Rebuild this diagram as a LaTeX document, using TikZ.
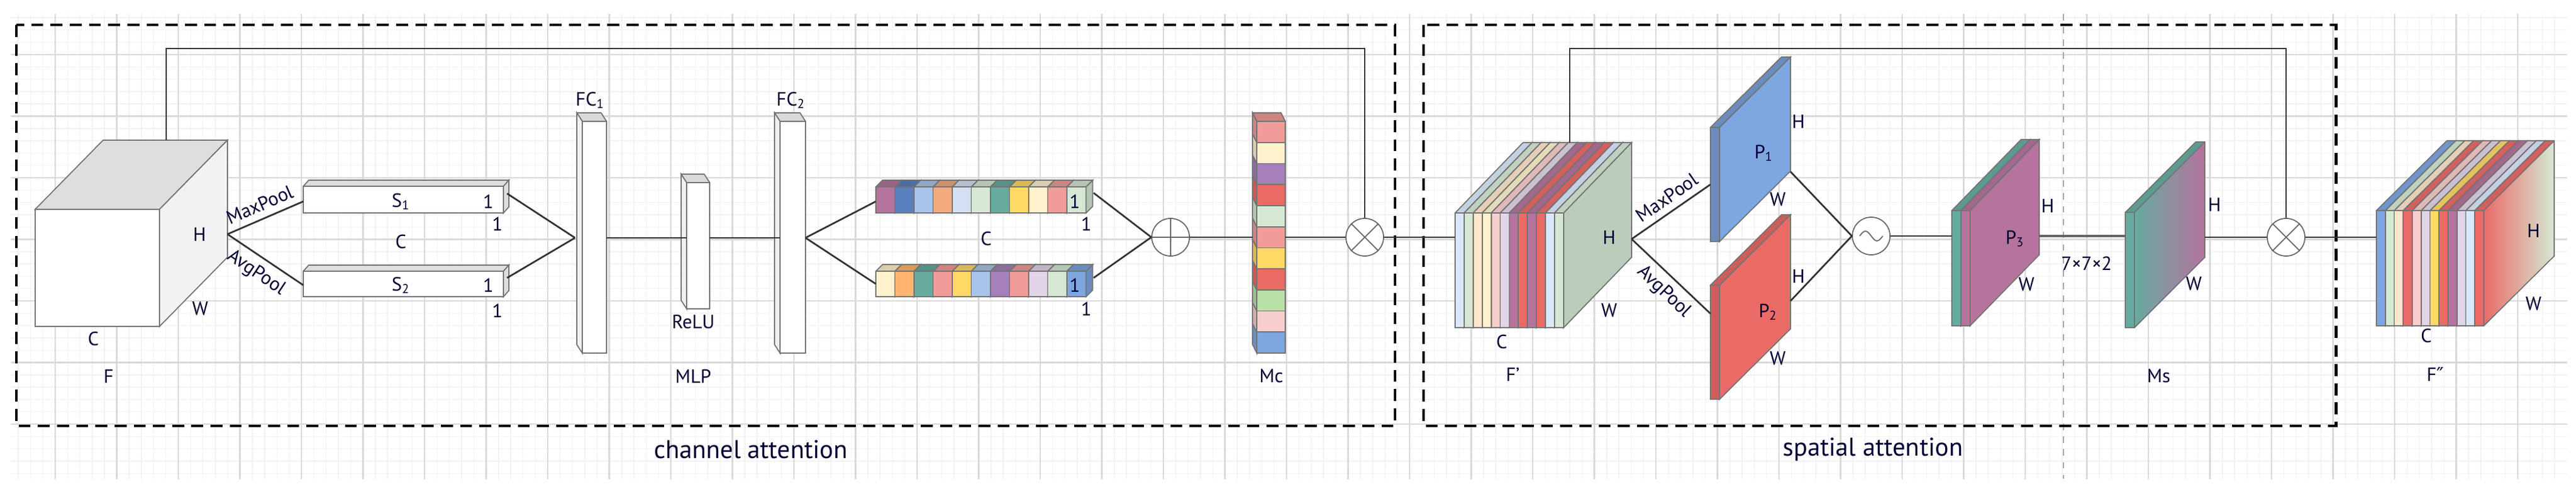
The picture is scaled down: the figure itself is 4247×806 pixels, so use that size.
\documentclass[tikz,border=0pt]{standalone}
\usepackage{fontspec}
\setmainfont{PT Sans}
\newfontfamily\djv{DejaVu Sans}
\begin{document}
\begin{tikzpicture}[x=0.01cm,y=-0.01cm,
  conn/.style={draw=black!80,line width=0.8pt},
  edge/.style={draw=black!55,line width=0.5pt},
  lbl/.style={text=black!80!blue,font=\fontsize{9}{10}\selectfont,inner sep=0pt},
  captxt/.style={text=black!80!blue,font=\fontsize{12}{14}\selectfont,inner sep=0pt},
  dbox/.style={draw=black,line width=1.4pt,dash pattern=on 5.6pt off 3.4pt},
  opcirc/.style={circle,draw=black!60,fill=white,minimum size=0.62cm,inner sep=0pt,line width=0.5pt}]
\definecolor{cA}{HTML}{DAE8FC}\definecolor{cB}{HTML}{D5E8D4}\definecolor{cC}{HTML}{FFE6CC}
\definecolor{cD}{HTML}{FFF2CC}\definecolor{cE}{HTML}{F8CECC}\definecolor{cF}{HTML}{E1D5E7}
\definecolor{cG}{HTML}{B5739D}\definecolor{cH}{HTML}{EA6B66}\definecolor{cI}{HTML}{7EA6E0}
\definecolor{cJ}{HTML}{67AB9F}\definecolor{cK}{HTML}{FFD966}\definecolor{cL}{HTML}{F19C99}
\definecolor{cM}{HTML}{A9C4EB}\definecolor{cN}{HTML}{FFB570}\definecolor{cO}{HTML}{A680B8}
\definecolor{cP}{HTML}{B9E0A5}\definecolor{cQ}{HTML}{5A80C0}\definecolor{cR}{HTML}{D4E1F5}
\definecolor{cS}{HTML}{F5A97F}
\newcommand{\cub}[9]{%
  \fill[#7] (#1,#2) rectangle ({#1+#3},{#2+#4});
  \fill[#8] (#1,#2) -- ({#1+#5},{#2+#6}) -- ({#1+#3+#5},{#2+#6}) -- ({#1+#3},#2) -- cycle;
  \draw[edge] (#1,#2) rectangle ({#1+#3},{#2+#4});
  \draw[edge] (#1,#2) -- ({#1+#5},{#2+#6}) -- ({#1+#3+#5},{#2+#6}) -- ({#1+#3},#2);
  \ifdim #5pt>0pt
    \filldraw[#9,edge] ({#1+#3},#2) -- ({#1+#3+#5},{#2+#6}) -- ({#1+#3+#5},{#2+#4+#6}) -- ({#1+#3},{#2+#4}) -- cycle;
  \else
    \filldraw[#9,edge] (#1,#2) -- ({#1+#5},{#2+#6}) -- ({#1+#5},{#2+#4+#6}) -- (#1,{#2+#4}) -- cycle;
  \fi}
\useasboundingbox (0,0) rectangle (4247,806);
\fill[white] (0,0) rectangle (4247,806);
% grid
\begin{scope}
\clip (18,23) rectangle (4232,789);
\foreach \i in {-5,...,210} {\draw[black!5,line width=0.4pt] ({91+20.3*\i},0) -- ({91+20.3*\i},806);}
\foreach \i in {-5,...,40} {\draw[black!5,line width=0.4pt] (0,{90+20.3*\i}) -- (4247,{90+20.3*\i});}
\foreach \i in {-1,...,42} {\draw[black!15,line width=0.6pt] ({91+101.5*\i},0) -- ({91+101.5*\i},806);}
\foreach \i in {-1,...,8} {\draw[black!15,line width=0.6pt] (0,{90+101.5*\i}) -- (4247,{90+101.5*\i});}
\end{scope}
\draw[black!35,dashed,line width=0.5pt] (3402,23) -- (3402,789);
% dashed boxes
\draw[dbox] (27,41) rectangle (2300,702);
\draw[dbox] (2347,41) rectangle (3851,702);
\node[captxt] (capc) at (1238,741) {channel attention};
\node[captxt] (caps) at (3088,741) {spatial attention};
% cube F
\fill[white] (58,345) rectangle (263,538);
\filldraw[black!13,edge] (58,345) -- (170,231) -- (375,231) -- (263,345) -- cycle;
\filldraw[black!5,edge] (263,345) -- (375,231) -- (375,424) -- (263,538) -- cycle;
\draw[edge] (58,345) rectangle (263,538);
\coordinate (Ftop) at (274,231);
\coordinate (Fout) at (375,386);
\node[lbl] (FH) at (329,386) {H};
\node[lbl] (FW) at (330,509) {W};
\node[lbl] (FC) at (154,558) {C};
\node[lbl] (FF) at (179,620) {F};
% S boxes
\cub{500}{307}{330}{44}{9}{-10}{white}{black!13}{black!13}
\cub{500}{447}{330}{42}{9}{-10}{white}{black!13}{black!13}
\coordinate (S1in) at (500,332); \coordinate (S2in) at (500,470);
\coordinate (S1out) at (836,319); \coordinate (S2out) at (836,458);
\node[lbl] (S1) at (661,332) {S\textsubscript{1}};
\node[lbl] (S1a) at (805,332) {1};
\node[lbl] (S1b) at (820,369) {1};
\node[lbl] (SC) at (661,398) {C};
\node[lbl] (S2) at (661,470) {S\textsubscript{2}};
\node[lbl] (S2a) at (805,470) {1};
\node[lbl] (S2b) at (820,512) {1};
\draw[conn] (Fout) -- node[lbl,sloped,above=3pt,pos=0.5]{MaxPool} (S1in);
\draw[conn] (Fout) -- node[lbl,sloped,below=3pt,pos=0.5]{AvgPool} (S2in);
% FC boxes
\cub{960}{200}{40}{382}{-9}{-14}{white}{black!15}{black!6}
\cub{1132}{301}{38}{208}{-9}{-14}{white}{black!15}{black!6}
\cub{1286}{200}{42}{382}{-9}{-14}{white}{black!15}{black!6}
\coordinate (FC1in) at (948,392); \coordinate (FC1out) at (1000,392);
\coordinate (Rin) at (1132,392); \coordinate (Rout) at (1170,392);
\coordinate (FC2in) at (1286,392); \coordinate (FC2out) at (1328,392);
\node[lbl] (FC1) at (973,165) {FC\textsubscript{1}};
\node[lbl] (FC2) at (1304,165) {FC\textsubscript{2}};
\node[lbl] (ReLU) at (1143,530) {ReLU};
\node[lbl] (MLP) at (1143,620) {MLP};
\draw[conn] (S1out) -- (FC1in); \draw[conn] (S2out) -- (FC1in);
\draw[conn] (FC1out) -- (Rin); \draw[conn] (Rout) -- (FC2in);
% colour bars
\foreach \c [count=\i from 0] in {cG,cQ,cM,cS,cR,cB,cJ,cK,cD,cL,cB}
  {\cub{1444+31.5*\i}{308}{31.5}{43}{11}{-11}{\c}{\c!85!black}{\c!85!black}}
\foreach \c [count=\i from 0] in {cD,cN,cJ,cL,cK,cM,cO,cL,cF,cB,cI}
  {\cub{1444+31.5*\i}{447}{31.5}{42}{11}{-11}{\c}{\c!85!black}{\c!85!black}}
\coordinate (B1in) at (1444,332); \coordinate (B2in) at (1444,468);
\coordinate (B1out) at (1803,318); \coordinate (B2out) at (1803,458);
\node[lbl] (B1a) at (1772,332) {1};
\node[lbl] (B1b) at (1791,369) {1};
\node[lbl] (BC) at (1626,393) {C};
\node[lbl] (B2a) at (1772,470) {1};
\node[lbl] (B2b) at (1791,509) {1};
\draw[conn] (FC2out) -- (B1in); \draw[conn] (FC2out) -- (B2in);
% oplus
\node[opcirc] (plus) at (1930,391) {};
\draw[black!60,line width=0.5pt] (plus.north) -- (plus.south) (plus.west) -- (plus.east);
\draw[conn] (B1out) -- (plus.west); \draw[conn] (B2out) -- (plus.west);
% Mc
\foreach \c [count=\i from 0] in {cI,cE,cP,cH,cK,cL,cB,cH,cO,cD,cL}
  {\cub{2072}{547.3-34.73*\i}{47}{34.73}{-7}{-14}{\c}{\c!85!black}{\c!85!black}}
\coordinate (Mcin) at (2065,391); \coordinate (Mcout) at (2119,391);
\node[lbl] (Mc) at (2096,620) {Mc};
\draw[conn] (plus.east) -- (Mcin);
% otimes 1
\node[opcirc] (mul1) at (2250,391) {};
\draw[black!60,line width=0.5pt] (mul1.north east) -- (mul1.south west) (mul1.north west) -- (mul1.south east);
\draw[conn] (Mcout) -- (mul1.west);
\draw[conn] (Ftop) -- (274,80) -- (2250,80) -- (mul1.north);
% F'
\foreach \c [count=\i from 0] in {cA,cB,cC,cD,cE,cF,cG,cH,cG,cH,cA}
  {\cub{2399+14.9*\i}{351}{14.9}{189}{112}{-116}{\c}{\c!90!black}{\c}}
\cub{2562.9}{351}{15.1}{189}{112}{-116}{cB}{cB!90!black}{cB!88!black}
\coordinate (Fpin) at (2399,391); \coordinate (Fpout) at (2690,394);
\coordinate (Fptop) at (2588,235);
\node[lbl] (FpH) at (2653,391) {H};
\node[lbl] (FpW) at (2653,512) {W};
\node[lbl] (FpC) at (2476,563) {C};
\node[lbl] (Fp) at (2494,617) {F'};
\draw[conn] (mul1.east) -- (Fpin);
% P1 P2
\cub{2820}{210}{15}{188}{117}{-116}{cI!85!black}{cI!85!black}{cI}
\cub{2820}{470}{15}{188}{117}{-116}{cH!88!black}{cH!88!black}{cH}
\coordinate (P1in) at (2820,304); \coordinate (P2in) at (2820,517);
\coordinate (P1out) at (2952,283); \coordinate (P2out) at (2952,496);
\node[lbl] (P1) at (2908,252) {P\textsubscript{1}};
\node[lbl] (P1H) at (2965,200) {H};
\node[lbl] (P1W) at (2931,329) {W};
\node[lbl] (P2) at (2915,514) {P\textsubscript{2}};
\node[lbl] (P2H) at (2965,455) {H};
\node[lbl] (P2W) at (2931,591) {W};
\draw[conn] (Fpout) -- node[lbl,sloped,above=3pt,pos=0.55]{MaxPool} (P1in);
\draw[conn] (Fpout) -- node[lbl,sloped,below=3pt,pos=0.55]{AvgPool} (P2in);
% tilde
\node[opcirc] (cat) at (3085,389) {};
\draw[black!60,line width=0.5pt] (3066,389) sin (3075.5,381) cos (3085,389) sin (3094.5,397) cos (3104,389);
\draw[conn] (P1out) -- (cat.west); \draw[conn] (P2out) -- (cat.west);
% P3
\cub{3218}{347}{15}{190}{114}{-117}{cJ}{cJ!90!black}{cJ}
\cub{3233}{347}{15}{190}{114}{-117}{cG}{cG!90!black}{cG}
\coordinate (P3in) at (3218,389); \coordinate (P3out) at (3362,389);
\node[lbl] (P3) at (3322,393) {P\textsubscript{3}};
\node[lbl] (P3H) at (3376,339) {H};
\node[lbl] (P3W) at (3341,469) {W};
\draw[conn] (cat.east) -- (P3in);
% Ms
\fill[cJ] (3504,350) rectangle (3519,540);
\fill[cJ!90!black] (3504,350) -- (3620,234) -- (3635,234) -- (3519,350) -- cycle;
\shade[left color=cJ,right color=cG] (3519,350) -- (3635,234) -- (3635,424) -- (3519,540) -- cycle;
\draw[edge] (3504,350) rectangle (3519,540);
\draw[edge] (3504,350) -- (3620,234) -- (3635,234) -- (3635,424) -- (3519,540) (3519,350) -- (3635,234);
\coordinate (Msin) at (3504,389); \coordinate (Msout) at (3635,391);
\node[lbl] (MsH) at (3651,337) {H};
\node[lbl] (MsW) at (3617,468) {W};
\node[lbl] (Ms) at (3559,620) {Ms};
\draw[black!60,line width=1.4pt] (P3out) -- node[lbl,below=9pt,pos=0.55]{7×7×2} (Msin);
% otimes 2
\node[opcirc] (mul2) at (3769,391) {};
\draw[black!60,line width=0.5pt] (mul2.north east) -- (mul2.south west) (mul2.north west) -- (mul2.south east);
\draw[conn] (Msout) -- (mul2.west);
\draw[conn] (Fptop) -- (2588,80) -- (3769,80) -- (mul2.north);
% F''
\foreach \c [count=\i from 0] in {cI,cB,cC,cH,cE,cF,cK,cH,cG,cF,cA}
  {\cub{3918+14.75*\i}{347}{14.75}{190}{116}{-115}{\c}{\c!90!black}{\c}}
\fill[cH] (4080.25,347) rectangle (4095,537);
\fill[cH!90!black] (4080.25,347) -- (4196.25,232) -- (4211,232) -- (4095,347) -- cycle;
\shade[left color=cH,right color=cB] (4095,347) -- (4211,232) -- (4211,422) -- (4095,537) -- cycle;
\draw[edge] (4080.25,347) rectangle (4095,537);
\draw[edge] (4080.25,347) -- (4196.25,232) -- (4211,232) -- (4211,422) -- (4095,537) (4095,347) -- (4211,232);
\coordinate (Fppin) at (3918,391);
\node[lbl] (FppH) at (4177,380) {H};
\node[lbl] (FppW) at (4177,501) {W};
\node[lbl] (FppC) at (4000,553) {C};
\node[lbl] (Fpp) at (4015,617) {F{\djv ″}};
\draw[conn] (mul2.east) -- (Fppin);
\end{tikzpicture}
\end{document}
